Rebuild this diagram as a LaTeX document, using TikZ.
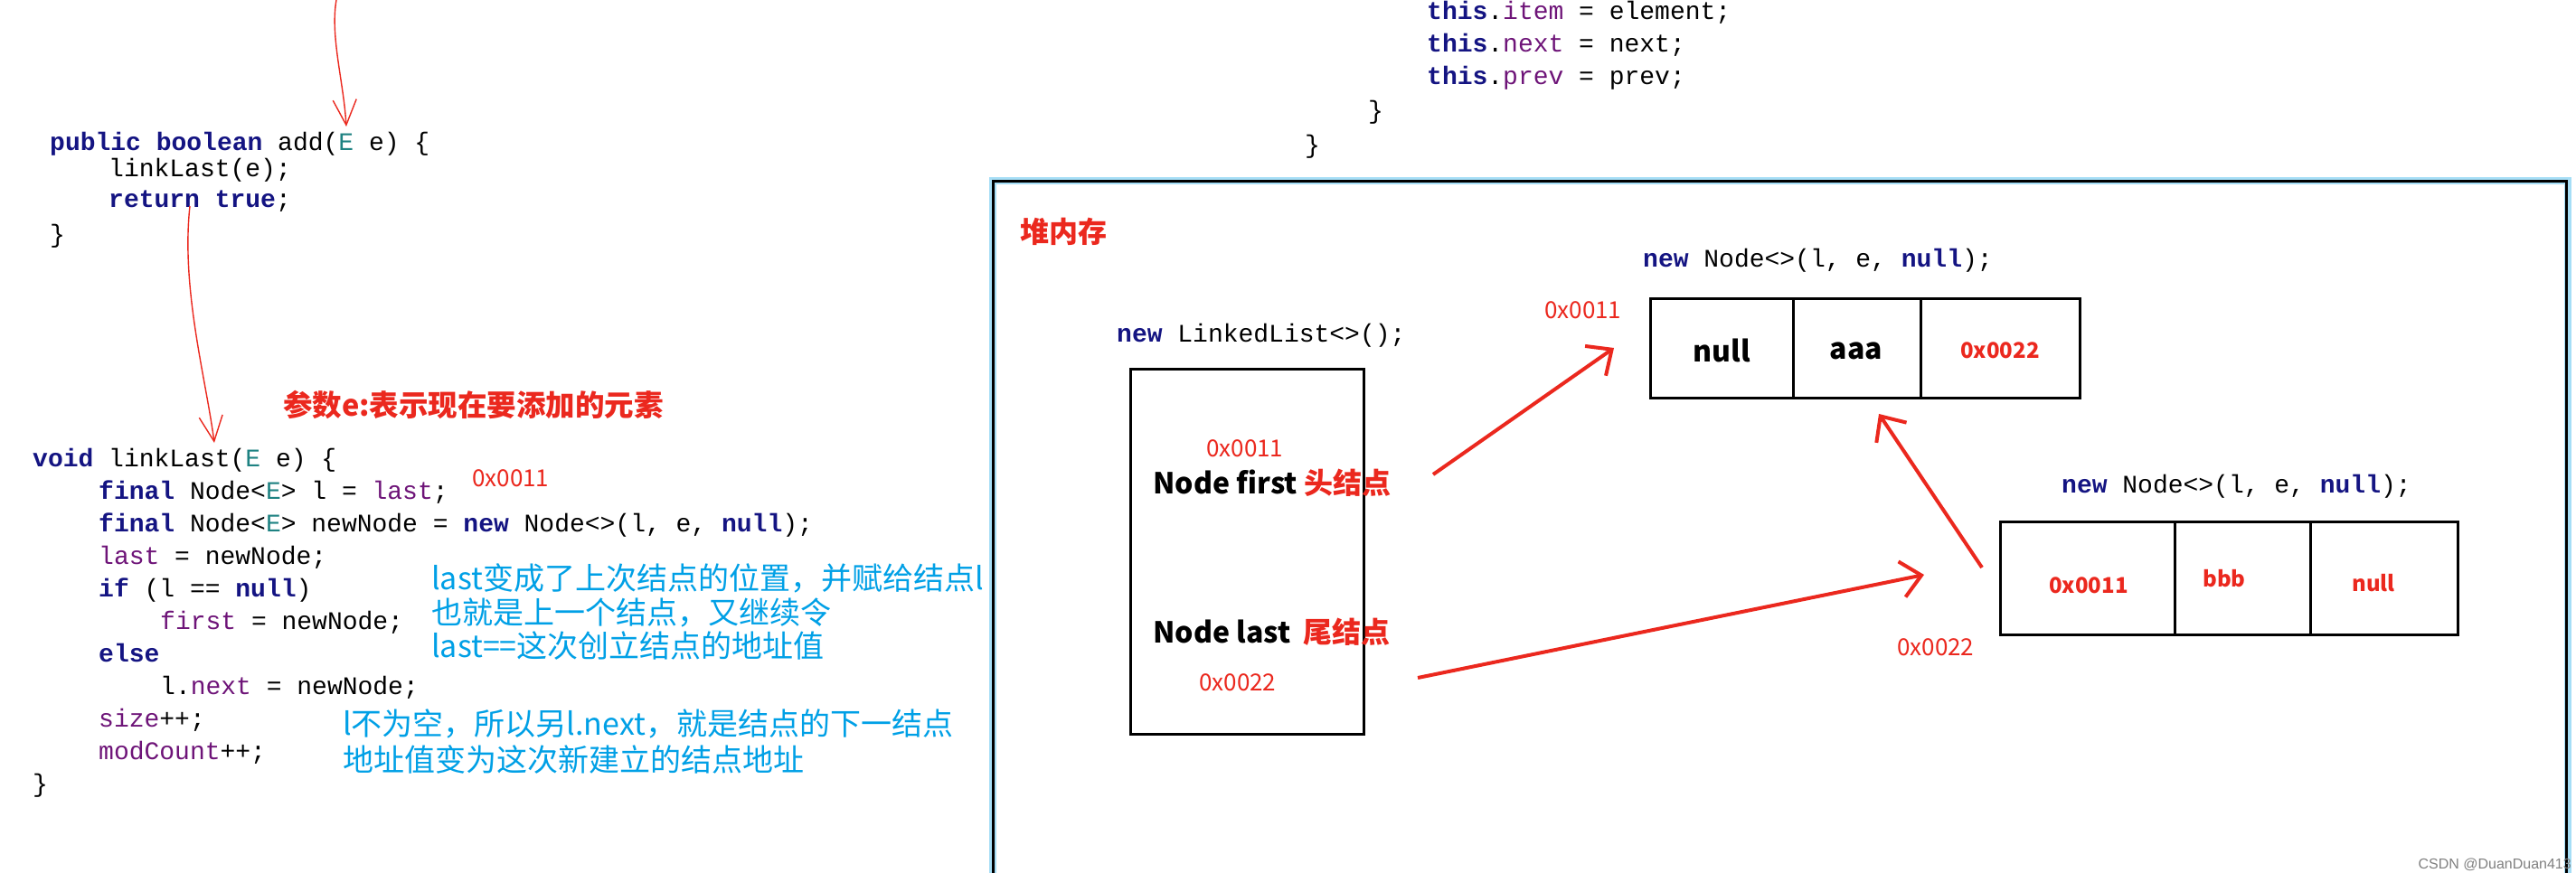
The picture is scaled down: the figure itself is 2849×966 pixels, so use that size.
\documentclass[tikz,border=0pt]{standalone}
\usepackage{fontspec}
\setmonofont{Liberation Mono}
\setmainfont{Liberation Sans}
\newfontfamily\cjk{Noto Sans CJK SC}
\usetikzlibrary{arrows.meta}
\definecolor{kw}{RGB}{20,20,130}
\definecolor{fld}{RGB}{110,20,120}
\definecolor{tp}{RGB}{30,130,130}
\definecolor{anno}{RGB}{0,160,230}
\definecolor{rd}{RGB}{235,40,30}
\newcommand{\kk}[1]{\textcolor{kw}{\bfseries #1}}
\newcommand{\ff}[1]{\textcolor{fld}{#1}}
\newcommand{\tT}[1]{\textcolor{tp}{#1}}
\begin{document}
\begin{tikzpicture}[x=1pt,y=-1pt,
  code/.style={anchor=base west,inner sep=0pt,font=\ttfamily\fontsize{28}{30}\selectfont},
  blue/.style={anchor=base west,inner sep=0pt,text=anno,font=\cjk\fontsize{34}{36}\selectfont},
  redt/.style={anchor=base west,inner sep=0pt,text=rd,font=\cjk\fontsize{26}{28}\selectfont},
  bigt/.style={anchor=base west,inner sep=0pt,font=\cjk\bfseries\fontsize{32}{34}\selectfont},
  cell/.style={inner sep=0pt,font=\cjk\bfseries\fontsize{32}{34}\selectfont},
  redarr/.style={draw=rd,line width=4pt,-{Straight Barb[length=22pt,width=40pt,line width=4pt]}},
  thinarr/.style={draw=rd,line width=1.4pt,-{Straight Barb[length=28pt,width=26pt]}},
  box/.style={draw=black,line width=3pt}]
\useasboundingbox (0,0) rectangle (2849,966);
\fill[white] (0,0) rectangle (2849,966);
% top code
\node[code] (t1) at (1578,22) {\kk{this}.\ff{item} = element;};
\node[code] (t2) at (1578,58) {\kk{this}.\ff{next} = next;};
\node[code] (t3) at (1578,93) {\kk{this}.\ff{prev} = prev;};
\node[code] (t4) at (1513,131) {\}};
\node[code] (t5) at (1443,169) {\}};
% add method
\node[code] (a1) at (55,166) {\kk{public} \kk{boolean} add(\tT{E} e) \{};
\node[code] (a2) at (120,195) {linkLast(e);};
\node[code] (a3) at (120,229) {\kk{return} \kk{true};};
\node[code] (a4) at (55,268) {\}};
% arrows hand-drawn
\coordinate (h1s) at (372,0);
\coordinate (h1e) at (383,140);
\draw[thinarr] (h1s) .. controls (365,40) and (380,90) .. (h1e);
\coordinate (h2s) at (210,228);
\coordinate (h2e) at (237,490);
\draw[thinarr] (h2s) .. controls (200,320) and (228,420) .. (h2e);
% annotation
\node[anchor=base west,inner sep=0pt,text=rd,font=\cjk\bfseries\fontsize{32.5}{34}\selectfont] (p) at (313,460) {参数e:表示现在要添加的元素};
% linkLast
\node[code] (l1) at (36,516) {\kk{void} linkLast(\tT{E} e) \{};
\node[code] (l2) at (109,552) {\kk{final} Node<\tT{E}> l = \ff{last};};
\node[code] (l3) at (109,588) {\kk{final} Node<\tT{E}> newNode = \kk{new} Node<>(l, e, \kk{null});};
\node[code] (l4) at (109,624) {\ff{last} = newNode;};
\node[code] (l5) at (109,660) {\kk{if} (l == \kk{null})};
\node[code] (l6) at (177,696) {\ff{first} = newNode;};
\node[code] (l7) at (109,732) {\kk{else}};
\node[code] (l8) at (177,768) {l.\ff{next} = newNode;};
\node[code] (l9) at (109,804) {\ff{size}++;};
\node[code] (l10) at (109,840) {\ff{modCount}++;};
\node[code] (l11) at (36,876) {\}};
\node[redt] (ad0) at (522,538) {0x0011};
\node[blue] (b1) at (477,652) {last变成了上次结点的位置，并赋给结点l};
\node[blue] (b2) at (477,690) {也就是上一个结点，又继续令};
\node[blue] (b3) at (477,727) {last==这次创立结点的地址值};
\node[blue] (b4) at (379,813) {l不为空，所以另l.next，就是结点的下一结点};
\node[blue] (b5) at (379,853) {地址值变为这次新建立的结点地址};
% heap
\draw[draw=anno!35,line width=8pt] (1098,200) rectangle (2840,972);
\draw[draw=black,line width=3pt] (1098,200) rectangle (2838,972);
\node[anchor=base west,inner sep=0pt,text=rd,font=\cjk\bfseries\fontsize{32}{34}\selectfont] (heap) at (1128,268) {堆内存};
\node[code] (nl) at (1235,378) {\kk{new} LinkedList<>();};
\draw[box] (1250,408) rectangle (1508,812);
\node[redt] (f0) at (1334,505) {0x0011};
\node[bigt] (nf) at (1275,546) {Node first \textcolor{rd}{头结点}};
\node[bigt] (nla) at (1275,711) {Node last \ \textcolor{rd}{尾结点}};
\node[redt] (l0) at (1326,764) {0x0022};
% node1
\node[code] (n1t) at (1817,295) {\kk{new} Node<>(l, e, \kk{null});};
\draw[box] (1825,330) rectangle (2300,440);
\draw[line width=3pt] (1983,330) -- (1983,440) (2124,330) -- (2124,440);
\node[cell] (c11) at (1904,388) {null};
\node[cell] (c12) at (2053,388) {aaa};
\node[cell,text=rd,font=\cjk\bfseries\fontsize{24}{26}\selectfont] (c13) at (2212,388) {0x0022};
\node[redt] (ad1) at (1708,352) {0x0011};
% node2
\node[code] (n2t) at (2280,545) {\kk{new} Node<>(l, e, \kk{null});};
\draw[box] (2212,577) rectangle (2718,702);
\draw[line width=3pt] (2405,577) -- (2405,702) (2555,577) -- (2555,702);
\node[cell,text=rd,font=\cjk\bfseries\fontsize{24}{26}\selectfont] (c21) at (2310,648) {0x0011};
\node[cell,text=rd,font=\cjk\bfseries\fontsize{24}{26}\selectfont] (c22) at (2460,640) {bbb};
\node[cell,text=rd,font=\cjk\bfseries\fontsize{24}{26}\selectfont] (c23) at (2625,645) {null};
\node[redt] (ad2) at (2098,725) {0x0022};
% arrows
\coordinate (s1) at (1585,525); \coordinate (e1) at (1785,385);
\draw[redarr] (s1) -- (e1);
\coordinate (s2) at (1568,750); \coordinate (e2) at (2128,636);
\draw[redarr] (s2) -- (e2);
\coordinate (s3) at (2192,628); \coordinate (e3) at (2078,458);
\draw[redarr] (s3) -- (e3);
\node[anchor=south east,inner sep=2pt,text=gray,font=\fontsize{16}{18}\selectfont] (wm) at (2846,966) {CSDN @DuanDuan413};
\end{tikzpicture}
\end{document}
